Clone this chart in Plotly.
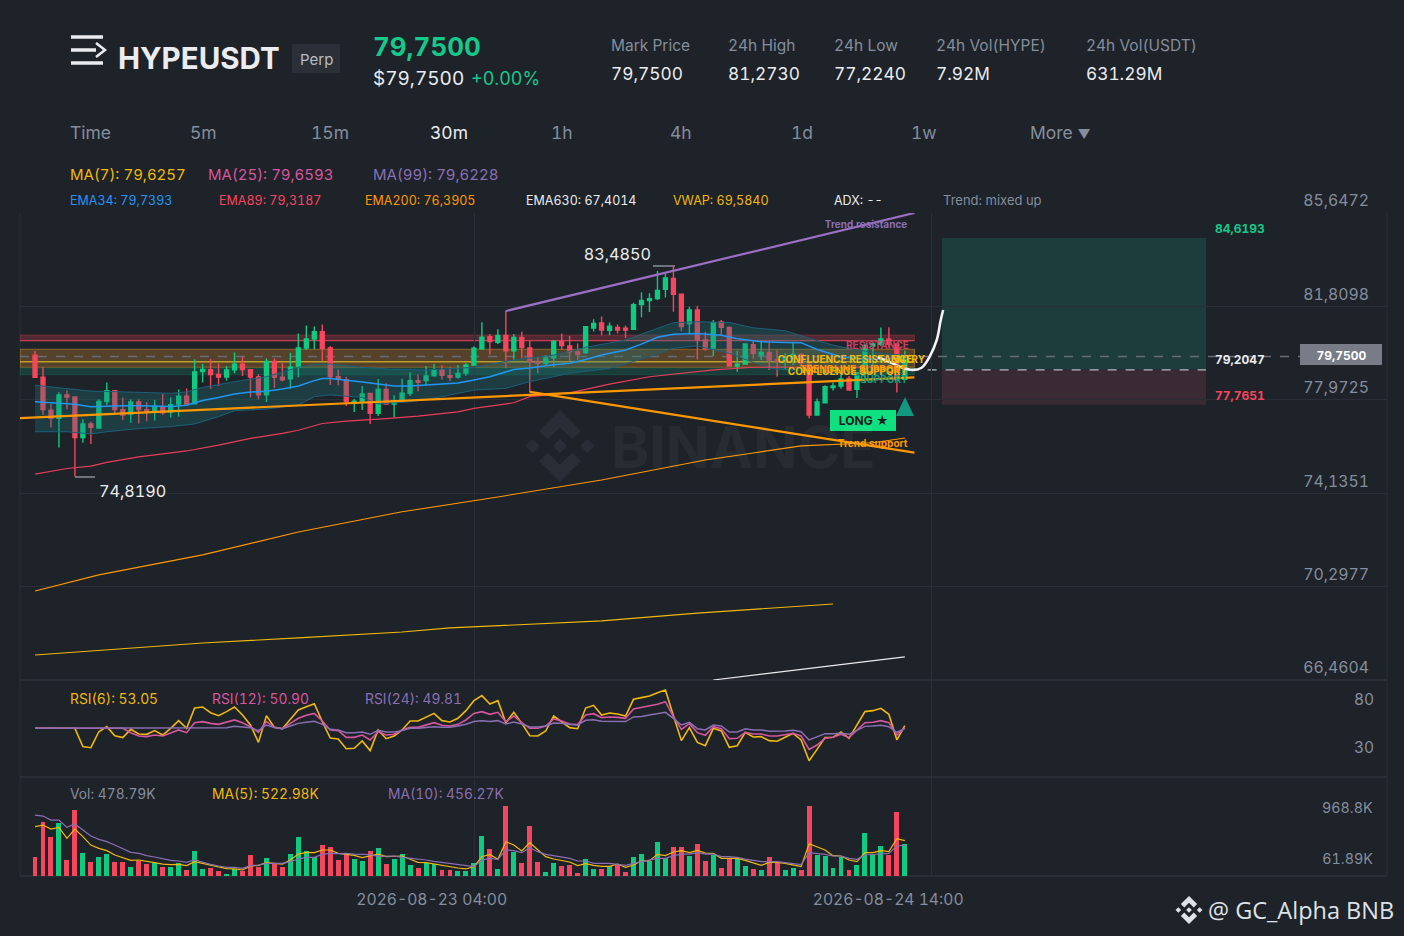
import plotly.graph_objects as go

W, H = 1404, 936
BG = "#1e2229"
GREEN = "#0ecb81"
RED = "#f6465d"
GRID = "#2a2e36"
GREY = "#848e9c"
LIGHT = "#eaecef"
YELLOW = "#f0b90b"
PINK = "#d6569f"
PURPLE = "#8a6fb3"
FONT = "Inter"

opens = [79.81,78.90,77.55,77.21,78.17,78.09,76.42,76.98,76.81,77.90,78.35,77.57,77.39,77.88,77.57,77.47,77.69,77.47,77.80,78.12,
77.81,79.13,79.21,79.01,78.91,79.20,79.43,79.21,78.91,78.18,79.55,78.90,78.84,79.31,80.10,80.47,80.77,80.10,78.92,78.80,
77.83,77.92,78.23,77.42,78.40,77.80,77.92,78.24,78.76,78.76,78.96,79.20,78.96,78.91,79.07,79.40,80.07,80.57,80.33,80.62,
79.99,80.53,80.10,79.55,79.47,79.70,80.36,80.18,79.94,79.91,80.92,81.13,80.83,80.94,80.91,80.87,81.89,82.05,82.13,82.51,
82.96,82.31,81.11,81.66,80.43,80.10,81.17,80.94,79.36,79.44,80.24,79.81,79.91,79.61,79.58,79.68,79.84,79.44,77.35,77.85,
78.48,78.54,78.85,78.40,79.06,80.18,80.25,80.46,80.27,78.81]
closes = [78.90,77.57,77.21,78.17,78.09,76.42,76.98,76.84,77.90,78.35,77.57,77.35,77.88,77.57,77.46,77.70,77.44,77.77,78.12,77.80,
79.12,79.22,79.01,78.91,79.20,79.44,79.22,78.91,78.18,79.55,78.90,78.79,79.31,80.10,80.47,80.77,80.09,78.92,78.81,77.91,
77.92,78.21,77.42,78.40,77.80,77.92,78.24,78.76,78.69,78.95,79.20,78.98,78.90,79.06,79.40,80.09,80.54,80.37,80.62,79.99,
80.53,80.12,79.53,79.47,79.68,80.37,80.20,79.94,79.84,80.98,81.11,80.84,81.00,80.84,80.84,81.88,82.05,82.13,82.47,82.98,
82.31,80.98,81.66,80.43,80.07,81.14,80.95,79.36,79.44,80.27,79.88,79.92,79.61,79.54,79.74,79.84,79.47,77.35,77.88,78.51,
78.54,78.83,78.37,79.09,80.20,80.27,80.47,80.25,78.79,79.61]
highs = [79.98,79.31,77.80,78.28,78.35,78.10,77.17,77.07,78.00,78.68,78.35,78.07,78.00,78.00,77.87,77.96,78.21,78.07,78.40,78.44,
79.64,79.44,79.65,79.47,79.36,79.92,79.73,79.22,79.02,79.68,79.68,79.47,79.91,80.70,81.03,80.98,81.07,80.18,79.22,78.92,
78.02,78.54,78.24,78.83,78.65,78.16,78.84,79.09,79.01,79.36,79.44,79.39,79.31,79.40,79.47,80.16,81.16,80.68,80.87,81.63,
80.68,80.77,80.39,79.74,79.81,80.43,80.70,80.59,80.29,81.00,81.28,81.39,81.15,81.07,81.02,81.96,82.39,82.35,83.26,83.14,
83.485,82.31,81.80,81.84,80.77,81.25,81.25,80.98,79.99,80.29,80.43,80.36,80.36,80.02,79.88,80.36,79.88,79.47,78.03,78.57,
78.68,78.99,78.95,79.10,80.29,80.32,80.94,80.95,80.29,79.99]
lows = [78.88,77.35,76.83,76.01,77.58,74.819,76.21,76.16,76.81,77.76,77.39,77.14,77.03,77.00,77.09,77.12,77.36,77.25,77.28,77.77,
77.80,78.68,78.43,78.54,78.76,79.06,78.95,78.07,78.00,77.88,78.46,78.72,78.43,78.90,80.02,80.05,79.58,78.58,78.57,77.72,
77.47,77.55,76.98,77.31,77.77,77.25,77.90,78.13,78.32,78.57,78.95,78.81,78.75,78.84,78.96,79.36,80.02,79.83,80.27,79.27,
79.61,79.66,78.28,79.06,79.40,79.33,80.02,79.54,79.61,79.85,80.78,80.62,80.62,80.70,80.51,80.87,81.36,81.58,82.07,82.18,
81.59,80.79,80.70,79.63,79.99,79.77,80.63,79.36,79.13,79.43,79.66,79.61,79.20,78.92,79.20,79.40,79.40,77.21,77.35,77.85,
78.35,78.43,78.37,78.05,78.65,78.99,80.18,80.13,78.27,78.79]

ema34_x = [0,2,4,5,7,9,11,13,15,17,19,21,23,25,27,29,31,33,35,36,37,39,41,43,45,47,49,51,53,55,57,60,62,65,67,69,71,74,76,78,80,83,86,88,91,94,96,98,101,103,106,109]
ema34 = [77.89,77.85,77.83,77.79,77.69,77.72,77.73,77.73,77.72,77.70,77.75,77.94,78.07,78.21,78.29,78.32,78.42,78.54,78.76,78.85,78.85,78.79,78.70,78.62,78.54,78.54,78.58,78.62,78.66,78.79,78.92,79.22,79.28,79.41,79.47,79.63,79.81,80.02,80.26,80.54,80.67,80.70,80.62,80.48,80.36,80.33,80.32,80.04,79.74,79.67,79.63,79.73]
band_up_x = [0,4,7,11,15,17,19,21,25,29,33,35,37,41,45,49,53,55,60,65,69,74,78,80,83,87,90,94,97,100,103,107,109]
band_up = [78.57,78.44,78.33,78.30,78.24,78.24,78.30,78.48,78.72,78.92,79.31,79.43,79.44,79.31,79.22,79.20,79.27,79.31,79.61,79.81,80.13,80.43,80.91,81.14,81.18,81.15,80.93,80.81,80.50,80.22,80.02,79.85,79.81]
band_lo_x = [0,4,7,9,13,17,20,23,25,29,33,35,37,41,43,47,51,55,59,62,67,72,77,80,83,87,92,97,103,109]
band_lo = [76.66,76.66,76.57,76.66,76.79,76.87,76.98,77.28,77.52,77.59,77.76,78.10,78.17,78.07,77.80,77.89,78.10,78.37,78.44,78.72,79.06,79.26,79.74,80.09,80.18,79.88,79.26,79.13,78.99,79.06]
ema89_x = [0,2,4,7,9,13,19,23,27,31,33,36,39,44,48,53,55,60,62,67,72,77,80,85,90,100,109]
ema89 = [74.92,75.02,75.15,75.25,75.40,75.63,75.87,76.11,76.39,76.59,76.72,77.00,77.10,77.20,77.30,77.48,77.62,77.85,78.10,78.26,78.62,78.92,79.03,79.20,79.31,79.31,79.32]
ema200_x = [0,8,21,33,46,58,71,84,90,96,105,109]
ema200 = [70.12,70.78,71.60,72.54,73.37,73.98,74.68,75.50,75.79,76.08,76.21,76.40]
vwap_x = [0,21,33,46,52,71,83,100]
vwap = [67.49,67.98,68.19,68.43,68.60,68.89,69.21,69.58]
ema630_x = [85,109]
ema630 = [66.46,67.41]

trend_res_x = [59,110.2]
trend_res = [81.62,85.65]
trend_up_x = [-1.88,110.2]
trend_up = [77.22,78.89]
trend_dn_x = [62,110.2]
trend_dn = [78.30,75.80]
curve_x = [105.6,107.1,108.7,110,111.1,112.1,113,113.5,113.8]
curve = [79.73,79.52,79.29,79.20,79.29,79.74,80.43,81.25,81.66]

rsi6 = [50.2,50.2,50.2,50.2,50.2,50.2,31.3,30.2,46.7,51.9,42.6,40.6,49.1,44.3,44.0,47.8,43.3,50.2,58.1,50.2,71.1,72.2,66.3,63.2,67.4,72.2,63.9,53.6,35.7,63.2,51.2,49.8,59.5,69.1,72.5,75.6,57.1,40.2,39.2,29.2,29.6,37.1,27.2,48.5,39.5,42.3,48.5,57.7,57.7,61.5,65.6,58.1,56.7,60.5,68.4,78.7,
83.9,75.3,78.7,56.0,66.7,55.3,42.6,42.3,47.4,62.9,57.1,50.9,49.8,71.1,73.9,63.9,66.0,65.0,62.9,80.1,81.8,83.5,86.9,89.7,63.2,37.5,50.9,35.7,32.3,50.2,47.4,30.6,32.3,46.1,41.2,41.6,37.5,36.8,40.9,45.0,38.2,16.8,28.5,40.6,40.9,46.4,39.9,53.6,67.4,68.4,70.8,64.6,38.2,53.05]
rsi12 = [50.2,50.2,50.2,50.2,50.2,50.2,50.2,50.2,50.2,50.2,50.2,50.2,45.7,42.3,41.6,43.3,42.3,45.7,48.5,45.7,56.0,57.1,55.3,54.3,56.4,58.8,56.0,51.9,46.1,57.1,51.2,49.8,55.3,60.5,63.6,65.6,57.7,48.5,47.8,40.9,40.9,43.3,38.2,46.7,43.3,44.0,48.5,51.2,51.2,53.6,56.0,53.3,52.6,54.3,58.8,65.6,
67.4,64.6,66.7,57.1,62.9,56.0,50.2,50.2,52.6,59.8,57.7,54.6,54.0,63.9,65.3,61.2,61.9,61.5,60.5,70.1,71.5,73.2,74.9,77.7,62.2,49.1,55.0,45.7,43.0,51.9,49.8,39.5,39.9,46.1,44.3,44.3,42.3,42.3,43.6,45.0,42.3,28.5,33.0,39.9,40.9,44.0,40.6,48.5,56.0,56.4,58.1,56.0,43.3,50.90]
rsi24 = [50.2,50.2,50.2,50.2,50.2,50.2,50.2,50.2,50.2,50.2,50.2,50.2,50.2,50.2,50.2,50.2,50.2,50.2,50.2,50.2,50.2,50.2,50.2,50.2,50.9,52.2,51.9,50.9,47.8,53.6,50.9,49.8,52.6,55.3,56.4,57.4,54.3,49.1,48.5,45.7,45.7,46.4,44.0,48.1,46.4,46.4,47.8,50.2,50.2,51.2,51.9,51.2,51.2,52.6,54.3,57.1,
58.1,57.1,58.1,54.6,56.7,54.6,51.6,51.6,52.6,55.7,55.3,54.0,53.6,58.4,59.1,57.4,57.4,57.4,57.1,61.9,62.5,63.9,65.0,66.7,60.5,53.6,56.4,49.8,48.5,53.6,52.6,46.4,46.4,49.8,48.5,48.5,47.1,47.1,47.4,48.1,46.7,38.2,41.2,44.7,44.7,45.0,44.0,48.5,52.2,52.6,53.3,51.9,46.1,49.81]

volumes = [286,804,582,789,237,976,335,212,286,325,207,202,133,227,177,187,138,138,187,89,370,99,113,79,30,99,69,306,128,266,177,138,325,572,375,286,454,424,237,325,251,222,370,414,177,247,325,168,113,197,173,89,89,69,79,187,
592,394,99,1035,360,197,744,207,59,197,153,163,49,251,104,108,148,177,54,281,325,222,508,266,429,434,291,473,222,311,118,271,247,148,104,89,286,197,94,113,89,1035,306,296,123,286,94,168,631,311,449,311,947,478.79]
vol_ma5 = [730,754,695,720,557,695,582,458,409,375,311,276,232,237,212,197,177,168,173,153,212,187,163,138,108,104,89,148,158,197,192,177,237,325,350,345,385,385,335,325,306,271,296,325,286,286,296,247,202,197,177,148,138,118,104,138,
286,320,247,508,458,370,493,394,286,251,232,207,153,182,158,143,143,177,128,163,222,227,320,301,355,375,345,380,340,335,261,261,261,232,192,158,202,202,187,158,138,478,434,385,301,296,237,212,345,345,375,360,552,522.98]
vol_ma10 = [902,887,828,828,720,769,680,592,542,508,458,409,350,335,301,281,251,232,222,202,237,202,173,148,128,128,113,153,163,187,187,187,212,251,276,276,320,335,330,335,325,316,316,291,296,296,276,266,247,237,217,202,187,173,153,138,
237,261,247,385,375,345,419,360,320,301,276,261,222,222,187,187,187,173,158,187,212,227,261,261,301,325,325,345,325,325,286,286,276,251,237,212,212,212,197,177,168,345,335,320,296,296,261,247,311,320,330,335,444,456.27]

price_ticks = [85.6472,81.8098,77.9725,74.1351,70.2977,66.4604]
price_labels = ["85,6472","81,8098","77,9725","74,1351","70,2977","66,4604"]
rsi_ticks = [80,30]
rsi_labels = ["80","30"]
vol_labels = ["968.8K","61.89K"]
date_ticks = [55.1,112.3]
date_labels = ["2026-08-23 04:00","2026-08-24 14:00"]

stat_names = ["Mark Price","24h High","24h Low","24h Vol(HYPE)","24h Vol(USDT)"]
stat_values = ["79,7500","81,2730","77,2240","7.92M","631.29M"]
frames = ["Time","5m","15m","30m","1h","4h","1d","1w","More <span style='font-size:13px'>▼</span>"]

candles_idx = list(range(len(closes)))

def fx(x):
    return x / W
def fy(y):
    return 1 - y / H

ann = []
def T(x, y, text, size, color, anchor="left", bold=False, font=FONT):
    ox = {"left": -2, "right": 2, "center": 0}[anchor]
    ann.append(dict(xref="paper", yref="paper", x=fx(x + ox), y=fy(y), text=f"<b>{text}</b>" if bold else text,
                    showarrow=False, xanchor=anchor, yanchor="middle",
                    font=dict(size=size, color=color, family=font), align=anchor))

shapes = []
def R(x0, y0, x1, y1, fill, line=None, lw=0, layer="below", ref="paper"):
    shapes.append(dict(type="rect", xref=ref, yref=ref, x0=fx(x0), y0=fy(y0), x1=fx(x1), y1=fy(y1),
                       fillcolor=fill, line=dict(color=line or fill, width=lw), layer=layer))
def L(x0, y0, x1, y1, color, lw=1, dash="solid", layer="below"):
    shapes.append(dict(type="line", xref="paper", yref="paper", x0=fx(x0), y0=fy(y0), x1=fx(x1), y1=fy(y1),
                       line=dict(color=color, width=lw, dash=dash), layer=layer))
def P(pts, fill, layer="below"):
    d = "M " + " L ".join(f"{fx(a):.5f},{fy(b):.5f}" for a, b in pts) + " Z"
    shapes.append(dict(type="path", xref="paper", yref="paper", path=d, fillcolor=fill, line=dict(width=0), layer=layer))
def logo(cx, cy, r, fill, layer="below"):
    top = [(0,-1),(.58,-.42),(.34,-.18),(0,-.52),(-.34,-.18),(-.58,-.42)]
    P([(cx+a*r, cy+b*r) for a,b in top], fill, layer)
    P([(cx+a*r, cy-b*r) for a,b in top], fill, layer)
    for dx in (-.76, 0, .76):
        P([(cx+(dx+a)*r, cy+b*r) for a,b in [(0,-.2),(.2,0),(0,.2),(-.2,0)]], fill, layer)

def band(k0, k1, p0, p1, fill, line=None, lw=0):
    shapes.append(dict(type="rect", xref="x", yref="y", x0=k0, x1=k1, y0=p0, y1=p1, fillcolor=fill,
                       line=dict(color=line or fill, width=lw), layer="below"))
def hline(k0, k1, p, color, lw=1, dash="solid"):
    shapes.append(dict(type="line", xref="x", yref="y", x0=k0, x1=k1, y0=p, y1=p, line=dict(color=color, width=lw, dash=dash), layer="below"))

XL, XR = -1.88, 169.42
band(XL, 110.2, 80.40, 80.635, "rgba(220,60,80,0.28)", "rgba(220,60,80,0.35)", 1)
hline(XL, 110.2, 80.40, "rgba(230,70,90,0.75)", 1.2)
band(XL, 110.2, 79.31, 80.05, "rgba(240,150,50,0.27)", "rgba(220,150,40,0.5)", 1.2)
hline(XL, 110.2, 79.54, "rgba(230,200,40,0.7)", 1.5)
band(XL, 110.2, 79.00, 79.28, "rgba(14,160,120,0.22)", "rgba(14,160,120,0.25)", 1)
band(113.65, 146.75, 79.2047, 84.6193, "#1c3d3b")
band(113.65, 146.75, 77.7651, 79.2047, "#3a2a33")
hline(XL, XR - 0.7, 79.75, "#676c75", 1.5, "dash")
hline(109.6, 146.75, 79.2047, "#b4b8be", 1.2, "dash")

logo(560, 446, 36, "#292d35")

L(20, 213, 20, 876, GRID)
L(1387, 213, 1387, 876, GRID)
L(20, 680, 1387, 680, "#2e323a", 1.5)
L(20, 777, 1387, 777, "#2e323a", 1.5)
L(20, 876, 1387, 876, "#2e323a", 1.5)

for (a, b, y) in [(71, 103, 37), (71, 96, 50), (71, 103, 63)]:
    L(a, y, b, y, LIGHT, 3.5, layer="above")
shapes.append(dict(type="path", xref="paper", yref="paper",
                   path=f"M {fx(96):.5f},{fy(43):.5f} L {fx(105):.5f},{fy(50):.5f} L {fx(96):.5f},{fy(57):.5f}",
                   line=dict(color=LIGHT, width=2.5), layer="above"))
R(292, 44, 340, 73, "#2b3038", layer="above")
T(118, 58, "HYPEUSDT", 29.5, LIGHT, bold=True)
T(316, 60, "Perp", 15, "#b7bdc6", "center")
T(373, 46, "79,7500", 26, "#15c98b", bold=True)
T(373, 78, "$79,7500", 19, LIGHT)
T(471, 78, "+0.00%", 18, "#15c98b")
for x, n, v in zip([611, 728, 834, 936, 1086], stat_names, stat_values):
    T(x, 45, n, 15.5, GREY)
    T(x, 74, v, 17.3, LIGHT)
for x, f in zip([70, 190, 311, 430, 551, 670, 791, 911, 1030], frames):
    T(x, 133, f, 17.5, LIGHT if f == "30m" else GREY)

T(70, 174, "MA(7): 79,6257", 15, YELLOW)
T(208, 174, "MA(25): 79,6593", 15, PINK)
T(373, 174, "MA(99): 79,6228", 15, PURPLE)
T(70, 200, "EMA34: 79,7393", 12.5, "#2196f3")
T(219, 200, "EMA89: 79,3187", 12.5, RED)
T(365, 200, "EMA200: 76,3905", 12.5, "#ff9800")
T(526, 200, "EMA630: 67,4014", 12.5, LIGHT)
T(673, 200, "VWAP: 69,5840", 12.5, YELLOW)
T(834, 200, "ADX: --", 12.5, LIGHT)
T(943, 200, "Trend: mixed up", 13, GREY)

T(617, 254, "83,4850", 16.2, LIGHT, "center")
L(653, 266, 675, 266, "#8b8f96", 1.5)
T(132, 491, "74,8190", 16.2, LIGHT, "center")
L(75, 477, 95, 477, "#8b8f96", 1.5)

T(866, 223.5, "Trend resistance", 10, "#8a6fb3", "center", True)
T(873, 443, "Trend support", 10, "#ff9800", "center", True)
T(877, 345, "RESISTANCE", 10, "#c8405f", "center", True)
T(845, 359.5, "CONFLUENCE RESISTANCE", 10, YELLOW, "center", True)
T(908, 359.5, "ENTRY", 10, YELLOW, "center", True)
T(847, 371.5, "CONFLUENCE SUPPORT", 10, YELLOW, "center", True)
T(853, 369, "TRENDLINE SUPPORT", 10, "#ff9800", "center", True)
T(884, 379, "SUPPORT", 10, "#10a07a", "center", True)

R(830, 410, 896, 431, "#0fe07f", layer="above")
T(863, 421, "LONG ★", 12, "#14201f", "center", True)
P([(905, 397), (914, 416), (896, 416)], "#13977f", layer="above")

T(1215, 228, "84,6193", 12, "#15c98b", bold=True)
T(1215, 359.5, "79,2047", 12, LIGHT, bold=True)
T(1215, 395, "77,7651", 12, RED, bold=True)
R(1300, 344, 1382, 365, "#787c87", layer="above")
T(1341, 355, "79,7500", 12, "#ffffff", "center", True)

T(70, 699, "RSI(6): 53.05", 13.8, YELLOW)
T(212, 699, "RSI(12): 50.90", 13.8, PINK)
T(365, 699, "RSI(24): 49.81", 13.8, PURPLE)
T(70, 794, "Vol: 478.79K", 13.8, GREY)
T(212, 794, "MA(5): 522.98K", 13.8, YELLOW)
T(388, 794, "MA(10): 456.27K", 13.8, PURPLE)
T(1373, 807, vol_labels[0], 14.3, GREY, "right")
T(1373, 858, vol_labels[1], 14.3, GREY, "right")

T(743, 447, "BINANCE", 58, "rgba(255,255,255,0.045)", "center", True)
logo(1189, 910, 14, "#dfe2e6", layer="above")
T(1208, 910, "@ GC_Alpha BNB", 23.5, "#dfe2e6", font="Open Sans")

fig = go.Figure()

def line(x, y, color, width, yaxis="y", name=None, **kw):
    fig.add_trace(go.Scatter(x=x, y=y, mode="lines", line=dict(color=color, width=width, **kw), yaxis=yaxis,
                             name=name, hoverinfo="skip", showlegend=False))

fig.add_trace(go.Scatter(x=band_lo_x, y=band_lo, mode="lines", line=dict(color="#1e5a78", width=1), showlegend=False, hoverinfo="skip"))
fig.add_trace(go.Scatter(x=band_up_x, y=band_up, mode="lines", line=dict(color="#1e5a78", width=1), showlegend=False, hoverinfo="skip"))
fig.add_trace(go.Scatter(x=band_up_x + band_lo_x[::-1], y=band_up + band_lo[::-1], mode="lines", fill="toself",
                         fillcolor="rgba(30,125,125,0.30)", line=dict(width=0), showlegend=False, hoverinfo="skip"))
line(ema200_x, ema200, "#ff9800", 1.1, name="EMA200")
line(vwap_x, vwap, YELLOW, 1.1, name="VWAP")
line(ema630_x, ema630, "#eaecef", 1.1, name="EMA630")
line(ema89_x, ema89, "#e83e5c", 1.2, name="EMA89")
line(ema34_x, ema34, "#2196f3", 1.5, name="EMA34")
line(trend_res_x, trend_res, "#9b6fc4", 2.2, name="Trend resistance")
line(trend_dn_x, trend_dn, "#ff9800", 2.2, name="Trend support")
line(trend_up_x, trend_up, "#ff9800", 2.2, name="Trendline")

fig.add_trace(go.Candlestick(x=candles_idx, open=opens, high=highs, low=lows, close=closes,
                             increasing=dict(line=dict(color=GREEN, width=1.4), fillcolor=GREEN),
                             decreasing=dict(line=dict(color=RED, width=1.4), fillcolor=RED),
                             whiskerwidth=0, showlegend=False, hoverinfo="skip"))
fig.add_trace(go.Scatter(x=curve_x, y=curve, mode="lines", line=dict(color="#f2f3f5", width=2.6, shape="spline"),
                         showlegend=False, hoverinfo="skip"))

line(candles_idx, rsi6, YELLOW, 1.6, "y2", "RSI6")
line(candles_idx, rsi12, PINK, 1.6, "y2", "RSI12")
line(candles_idx, rsi24, PURPLE, 1.5, "y2", "RSI24")

fig.add_trace(go.Bar(x=candles_idx, y=volumes, yaxis="y3", width=0.62,
                     marker=dict(color=[GREEN if c >= o else RED for o, c in zip(opens, closes)], line=dict(width=0)),
                     showlegend=False, hoverinfo="skip"))
line(candles_idx, vol_ma5, YELLOW, 1.2, "y3", "MA5")
line(candles_idx, vol_ma10, PURPLE, 1.2, "y3", "MA10")

fig.update_layout(
    width=W, height=H, margin=dict(l=0, r=0, t=0, b=0), paper_bgcolor=BG, plot_bgcolor=BG,
    showlegend=False, hovermode=False, dragmode=False, font=dict(family=FONT, color=GREY),
    shapes=shapes, annotations=ann, bargap=0,
    xaxis=dict(domain=[fx(20), fx(1387)], range=[XL, XR], anchor="y3", showgrid=True, gridcolor=GRID, gridwidth=1,
               automargin=False,
               tickmode="array", tickvals=date_ticks, ticktext=date_labels, ticks="", zeroline=False,
               tickfont=dict(size=15.7, color=GREY), ticklabelshift=-43, ticklabelstandoff=12,
               rangeslider=dict(visible=False), showline=False),
    yaxis=dict(domain=[1 - 680 / H, 1 - 213 / H], range=[price_ticks[-1], price_ticks[0]], anchor="x", side="right",
               automargin=False,
               tickmode="array", tickvals=price_ticks, ticktext=price_labels, gridcolor=GRID, gridwidth=1, ticks="",
               ticklabelposition="inside top", ticklabeloverflow="allow", ticklabelstandoff=15, ticklabelshift=-1,
               tickfont=dict(size=15.8, color=GREY), zeroline=False, showline=False),
    yaxis2=dict(domain=[1 - 777 / H, 1 - 680 / H], range=[0, 100], anchor="x", side="right",
                automargin=False,
                tickmode="array", tickvals=rsi_ticks, ticktext=rsi_labels, showgrid=False, ticks="",
                ticklabelposition="inside", ticklabeloverflow="allow", ticklabelstandoff=10,
                tickfont=dict(size=15.5, color=GREY), zeroline=False, showline=False),
    yaxis3=dict(domain=[1 - 876 / H, 1 - 777 / H], range=[0, 1465], anchor="x", side="right", automargin=False,
                showticklabels=False, showgrid=False, ticks="", zeroline=False, showline=False),
)

post = """document.body.style.margin='0';
var s=document.createElement('style');
s.textContent="svg text{font-variant-numeric:tabular-nums;font-feature-settings:'tnum'}";
document.head.appendChild(s);
Plotly.redraw(document.querySelector('.plotly-graph-div'));"""
fig.write_html("out.html", config=dict(displayModeBar=False), post_script=post)
